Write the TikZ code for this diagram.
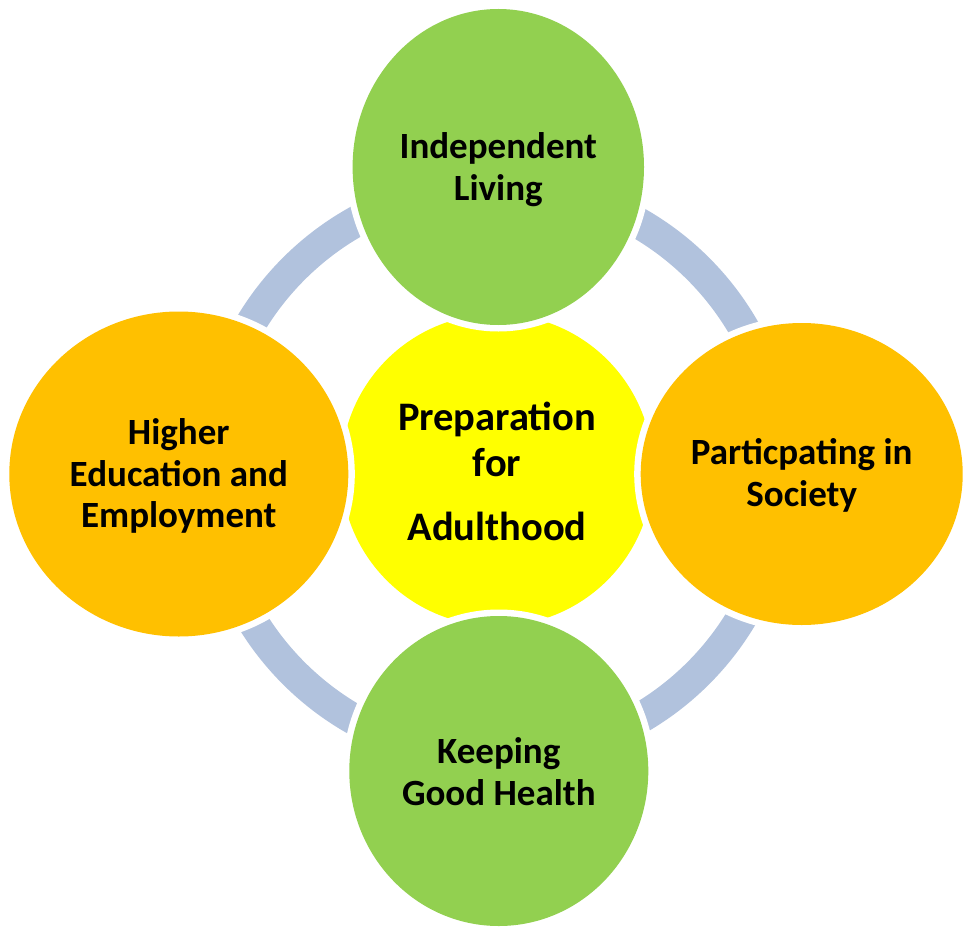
\documentclass[tikz,border=0pt]{standalone}
\usepackage{fontspec}
\setmainfont{Carlito}
\usetikzlibrary{shapes.geometric}
\definecolor{cgreen}{HTML}{92D050}
\definecolor{corange}{HTML}{FFC000}
\definecolor{cyellow}{HTML}{FFFF00}
\definecolor{cring}{HTML}{B1C2DD}
\tikzset{
  blob/.style={ellipse, inner sep=0pt, preaction={draw=white, line width=13pt}},
  lbl/.style={align=center, font=\bfseries\fontsize{37}{41.7}\selectfont, text=black, inner sep=0pt},
  ringstyle/.style={draw=cring, line width=31pt}
}
\begin{document}
\begin{tikzpicture}[x=1pt,y=-1pt]
\useasboundingbox (0,0) rectangle (971,936);
\draw[ringstyle] (496,471) circle (286);
\node[circle, fill=cyellow, minimum size=312pt, inner sep=0pt] (mid) at (497,470) {};
\node[blob, fill=cgreen, minimum width=291.4pt, minimum height=316pt] (top) at (498.3,167) {};
\node[blob, fill=corange, minimum width=339pt, minimum height=325pt] (left) at (178.8,474) {};
\node[blob, fill=corange, minimum width=322pt, minimum height=302pt] (right) at (801.7,474) {};
\node[blob, fill=cgreen, minimum width=299pt, minimum height=310pt] (bottom) at (498.8,771) {};
\node[lbl] (toptxt) at ([yshift=-3pt]top) {Independent\\Living};
\node[lbl] (lefttxt) at ([yshift=-2pt]left) {Higher\\Education and\\Employment};
\node[lbl] (righttxt) at ([yshift=-1.5pt]right) {Particpating in\\Society};
\node[lbl] (bottomtxt) at ([yshift=-0.5pt]bottom) {Keeping\\Good Health};
\node[lbl, font=\bfseries\fontsize{40.5}{46}\selectfont] (midtxt) at (497,471) {Preparation\\for\\[18pt]Adulthood};
\end{tikzpicture}
\end{document}
